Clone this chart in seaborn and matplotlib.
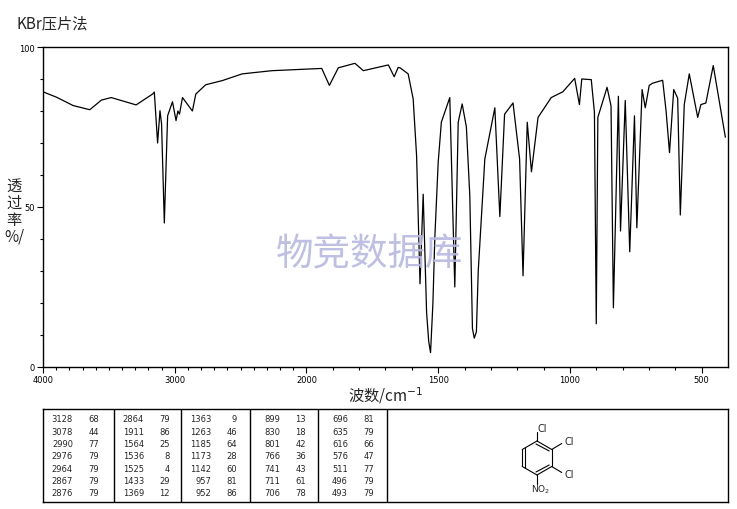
import matplotlib
matplotlib.use("Agg")
import matplotlib.pyplot as plt
import seaborn as sns
import numpy as np
import pandas as pd

wavenumber = [4000,3897,3771,3645,3557,3482,3293,3168,3155,3130,3112,3100,3079,3054,3017,2990,2976,2964,2941,2866,2840,2765,2639,2488,2262,
              1942,1913,1879,1816,1784,1689,1667,1652,1645,1614,1595,1582,1569,1557,1544,1536,1529,1520,1513,1500,1488,1456,1437,1424,1409,1393,1380,
              1370,1363,1355,1348,1323,1285,1266,1248,1216,1191,1178,1162,1146,1121,1071,1027,982,964,955,919,907,900,894,859,844,835,816,808,790,
              773,755,746,726,714,699,686,648,635,622,606,591,581,566,547,515,503,484,456,410]
transmittance = [86,84.3,81.7,80.4,83.4,84.2,81.9,85.3,85.9,70,80.1,76,45,78.5,82.9,77,80,79,84.2,80,85.3,88.2,89.5,91.6,92.6,
                 93.3,88,93.5,94.9,92.6,94.4,90.7,93.6,93.5,91.6,83.8,66,26,54,17,8,4.5,20,40,64,76.5,84.2,25,76.5,82.2,75,53.5,
                 12,9,11,30,65,81,47,79,82.5,65,28.5,76.5,61,78,84.2,86,90.2,82,90,89.8,79.6,13.5,78,87.4,81.6,18.5,84.6,42.5,83.3,
                 36,78.5,43.5,86.7,81,88,88.7,89.6,80,67,86.7,84,47.5,82,91.6,78,82,82.5,94.2,71.8]

peak_wn = [[3128,3078,2990,2976,2964,2867,2876],[2864,1911,1564,1536,1525,1433,1369],
           [1363,1263,1185,1173,1142,957,952],[899,830,801,766,741,711,706],[696,635,616,576,511,496,493]]
peak_t = [[68,44,77,79,79,79,79],[79,86,25,8,4,29,12],[9,46,64,28,60,81,86],
          [13,18,42,36,43,61,78],[81,79,66,47,77,79,79]]

df = pd.DataFrame({"wn": wavenumber, "T": transmittance})

sns.set_theme(style="white")
plt.rcParams['font.family'] = ['Noto Sans CJK SC', 'DejaVu Sans']

fig = plt.figure(figsize=(7.37, 5.10), dpi=100)
ax = fig.add_axes([43/737, 1-368/510, 685/737, 320/510])

def fwd(w):
    w = np.asarray(w, dtype=float)
    return np.where(w <= 2000, w, 2000 + (w - 2000) / 2)
def inv(u):
    u = np.asarray(u, dtype=float)
    return np.where(u <= 2000, u, 2000 + (u - 2000) * 2)
ax.set_xscale('function', functions=(fwd, inv))
sns.lineplot(data=df, x="wn", y="T", ax=ax, color="black", linewidth=0.9, sort=False, estimator=None)
ax.set_xlim(4000, 400)
ax.set_ylim(0, 100)
ax.set_xticks([4000, 3000, 2000, 1500, 1000, 500])
ax.set_xticklabels(["4000", "3000", "2000", "1500", "1000", "500"], fontsize=6, family="DejaVu Sans")
ax.set_xticks(list(range(3900, 2000, -100)) + list(range(1900, 400, -100)), minor=True)
ax.set_yticks([0, 50, 100])
ax.set_yticklabels(["0", "50", "100"], fontsize=6, family="DejaVu Sans")
ax.set_yticks(range(10, 100, 10), minor=True)
ax.tick_params(which="both", direction="out", length=4, width=0.8, colors="black", bottom=True, left=True, pad=2)
ax.tick_params(which="minor", length=2.5)
for s in ax.spines.values():
    s.set_color("black"); s.set_linewidth(1)
ax.set_xlabel("波数/cm$^{-1}$", fontsize=11, labelpad=0)
ax.set_ylabel("")
fig.text(14/737, 1-212/510, "透\n过\n率\n%/", fontsize=11, ha="center", va="center", linespacing=1.0)
fig.text(16/737, 1-24/510, "KBr压片法", fontsize=11, ha="left", va="center")
fig.text(370/737, 1-255/510, "物竞数据库", fontsize=27, color="#b8b8e0", ha="center", va="center", alpha=0.9)

# peak table
tax = fig.add_axes([43/737, 1-503/510, 685/737, 93/510])
tax.set_xlim(43, 728); tax.set_ylim(503, 410)
tax.set_xticks([]); tax.set_yticks([])
for s in tax.spines.values():
    s.set_color("black"); s.set_linewidth(1)
for xb in [114, 181, 250, 318, 387]:
    tax.axvline(xb, color="black", lw=1)
colx = [43, 114, 181, 250, 318]
for c in range(5):
    for r in range(7):
        yy = 420 + r * 12.3
        tax.text(colx[c] + 30, yy, str(peak_wn[c][r]), fontsize=6, ha="right", va="center", family="DejaVu Sans")
        tax.text(colx[c] + 56, yy, str(peak_t[c][r]), fontsize=6, ha="right", va="center", family="DejaVu Sans")
# structure
cx, cy, R = 537, 459, 17
ang = np.deg2rad([90, 30, -30, -90, -150, 150])
px = cx + R*np.cos(ang); py = cy - R*np.sin(ang)
for i in range(6):
    tax.plot([px[i], px[(i+1) % 6]], [py[i], py[(i+1) % 6]], color="black", lw=0.8)
tax.plot([px[4]+2.5, px[5]+2.5], [py[4]+1.5, py[5]-1.5], color="black", lw=0.8)
tax.plot([px[0]-1, px[1]-2.5], [py[0]+3, py[1]+1.5], color="black", lw=0.8)
tax.plot([px[2]-2.5, px[3]-1], [py[2]-1.5, py[3]-3], color="black", lw=0.8)
tax.plot([px[0], px[0]], [py[0], py[0]-9], color="black", lw=0.8)
tax.plot([px[1], px[1]+10], [py[1], py[1]-6], color="black", lw=0.8)
tax.plot([px[2], px[2]+10], [py[2], py[2]+6], color="black", lw=0.8)
tax.plot([px[3], px[3]], [py[3], py[3]+9], color="black", lw=0.8)
tax.text(px[0]+5, py[0]-13, "Cl", fontsize=7, ha="center", va="center", family="DejaVu Sans")
tax.text(px[1]+18, py[1]-8, "Cl", fontsize=7, ha="center", va="center", family="DejaVu Sans")
tax.text(px[2]+18, py[2]+8, "Cl", fontsize=7, ha="center", va="center", family="DejaVu Sans")
tax.text(px[3]+4, py[3]+14, "NO$_2$", fontsize=6.5, ha="center", va="center", family="DejaVu Sans")

fig.savefig("out.png", dpi=100)
